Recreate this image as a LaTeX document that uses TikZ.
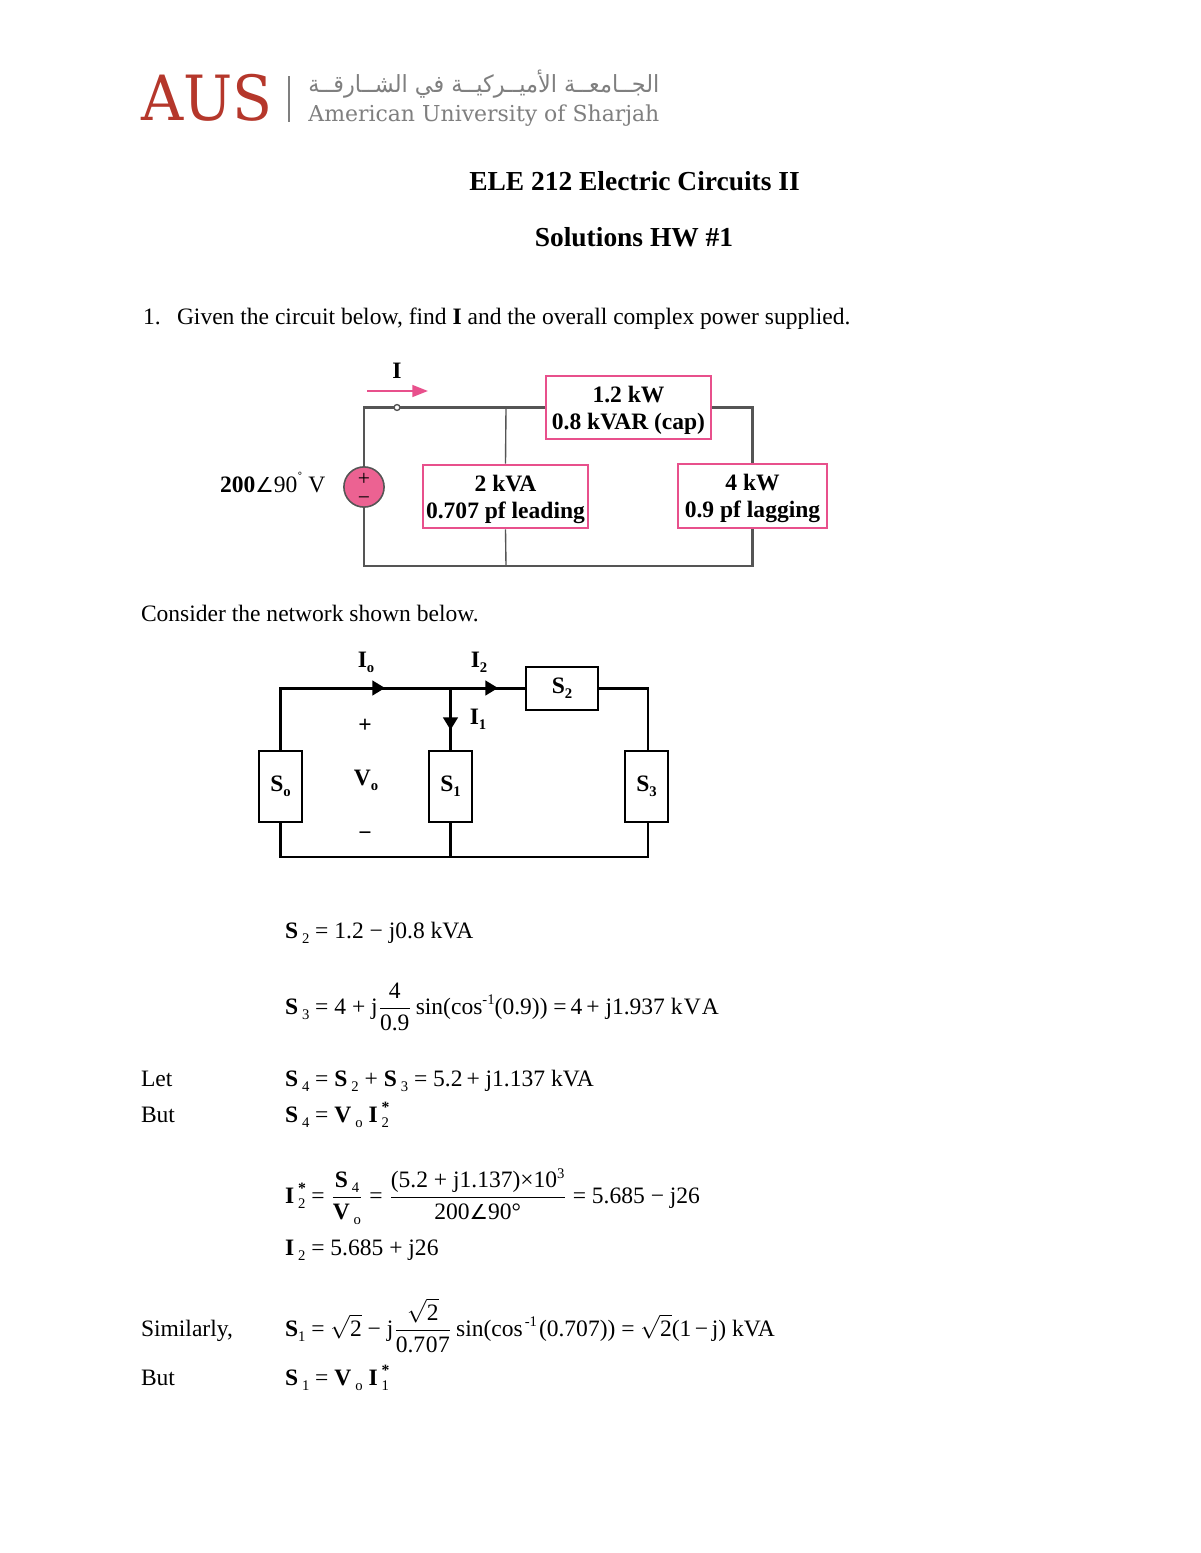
\documentclass[tikz,border=0pt]{standalone}
\usepackage{fontspec}
\usepackage{amsmath}
\usepackage{graphicx}
\setmainfont{Liberation Serif}
\newfontfamily\arabicfont[Script=Arabic]{DejaVu Sans}
\newfontfamily\symbfont{DejaVu Sans}
\newfontfamily\logoserif{DejaVu Serif}
\TeXXeTstate=1
\usetikzlibrary{arrows.meta}
\definecolor{aused}{HTML}{B5372B}
\definecolor{augray}{HTML}{7F7F7F}
\definecolor{pinkline}{HTML}{E8508C}
\definecolor{pinkfill}{HTML}{EC6292}
\definecolor{wiregray}{HTML}{555555}
\newcommand\subb[1]{\raisebox{-2.6pt}{\fontsize{7.5}{8}\selectfont #1}}
\newcommand\subs[2]{\rlap{\raisebox{5pt}{\fontsize{8}{8}\selectfont\bfseries #2}}\raisebox{-2.6pt}{\fontsize{7.5}{8}\selectfont #1}}
\newcommand\supp[1]{\raisebox{4.6pt}{\fontsize{7.5}{8}\selectfont #1}}
\newcommand\myfrac[2]{\ensuremath{\genfrac{}{}{0.5pt}{0}{\hbox{#1}}{\hbox{#2}}}}
\newcommand\myroot{\ensuremath{\sqrt{\hbox{2}}}}
\newcommand\ang{{\symbfont\fontsize{10.5}{12}\selectfont ∠}}
\newcommand\lift{\rule{0pt}{11pt}}
\tikzset{
  txt/.style={anchor=base west,inner sep=0pt,outer sep=0pt,font=\fontsize{12}{14}\selectfont},
  lbl/.style={anchor=base,inner sep=0pt,outer sep=0pt,font=\fontsize{12}{14}\selectfont\bfseries},
  head/.style={anchor=base,inner sep=0pt,font=\fontsize{14}{16}\selectfont\bfseries},
  pinkbox/.style={draw=pinkline,line width=1.1pt,fill=white,minimum width=#1,inner sep=0pt,align=center,font=\fontsize{12}{13.8}\selectfont\bfseries},
  blackbox/.style={draw=black,line width=1.3pt,fill=white,inner sep=0pt,font=\fontsize{12}{14}\selectfont\bfseries},
  outerwire/.style={draw=wiregray,line width=1.5pt},
  innerwire/.style={draw=wiregray,line width=0.7pt},
  blackwire/.style={draw=black,line width=1.3pt},
  tip/.style={draw=black,line width=1.3pt,-{Triangle[length=6.5pt,width=7.5pt]}},
}
\begin{document}
\begin{tikzpicture}[x=0.51pt,y=-0.51pt]
\useasboundingbox (0,0) rectangle (1200,1553);
\fill[white] (0,0) rectangle (1200,1553);
% logo
\node[anchor=base west,inner sep=0pt,text=aused] (aus) at (141,120.5) {\resizebox{67pt}{23.6pt}{\logoserif AUS}};
\node[anchor=north,fill=augray,minimum width=1pt,minimum height=23.5pt,inner sep=0pt] (bar) at (289,76) {};
\node[anchor=base west,inner sep=0pt,text=augray] (ar) at (308,93) {\resizebox{179pt}{11.5pt}{\arabicfont\beginR الجــامعــة الأميــركيــة في الشــارقــة\endR}};
\node[anchor=base west,inner sep=0pt,text=augray] (en) at (308,122) {\resizebox{179pt}{!}{\logoserif American University of Sharjah}};
% titles
\node[head] (t1) at (634.5,191) {ELE 212 Electric Circuits II};
\node[head] (t2) at (634,246) {Solutions HW \#1};
\node[txt] (q1n) at (143,324) {1.};
\node[txt] (q1) at (177,324) {Given the circuit below, find \textbf{I} and the overall complex power supplied.};
% circuit 1
\node[pinkbox=84.2pt,minimum height=32pt] (top) at (628.5,407.5) {\lift 1.2 kW\\0.8 kVAR (cap)};
\node[pinkbox=84.2pt,minimum height=32.5pt] (left) at (505.5,496.5) {\lift 2 kVA\\0.707 pf leading};
\node[pinkbox=76pt,minimum height=32.5pt] (right) at (752.5,496) {\lift 4 kW\\0.9 pf lagging};
\node[circle,draw=wiregray,line width=0.8pt,fill=pinkfill,minimum size=20.5pt,inner sep=0pt] (src) at (364,487) {};
\node[inner sep=0pt,font=\fontsize{11}{11}\selectfont] (plus) at (364,479) {+};
\node[inner sep=0pt,font=\fontsize{11}{11}\selectfont] (minus) at (364,501) {−};
\coordinate (jt) at (506,407.5);
\coordinate (jb) at (506,566);
\coordinate (rb) at (752.5,566);
\draw[outerwire] (src.north) |- (top.west);
\draw[outerwire] (top.east) -| (right.north);
\draw[outerwire] (src.south) |- (rb) -- (right.south);
\draw[innerwire] (jt) -- (left.north);
\draw[innerwire] (left.south) -- (jb);
\node[draw=wiregray,line width=0.7pt,fill=white,circle,minimum size=3pt,inner sep=0pt] (dot) at (397,407.5) {};
\coordinate (ia) at (367,391);
\coordinate (ib) at (428,391);
\draw[draw=pinkline,line width=1.1pt,-{Triangle[length=8pt,width=6pt]}] (ia) -- (ib);
\node[lbl] (ilab) at (397,378) {I};
\node[txt] (vs) at (220,492) {\textbf{200}\ang 90\textsuperscript{\fontsize{8}{8}\selectfont ˚}\kern2.5pt V};
% network
\node[txt] (cons) at (141,621) {Consider the network shown below.};
\node[blackbox,minimum width=21.9pt,minimum height=36.2pt] (s0) at (280.5,786.5) {S\subb{o}};
\node[blackbox,minimum width=21.9pt,minimum height=36.2pt] (s1) at (450.5,786.5) {S\subb{1}};
\node[blackbox,minimum width=21.9pt,minimum height=36.2pt] (s3) at (646.5,786.5) {S\subb{3}};
\node[blackbox,minimum width=36.7pt,minimum height=22pt] (s2) at (562,688.5) {S\subb{2}};
\coordinate (j1) at (450.5,688);
\coordinate (j2) at (450.5,857);
\coordinate (s3t) at (648,751);
\coordinate (s3b) at (648,822);
\coordinate (br) at (648,857);
\draw[blackwire] (s0.north) |- (s2.west);
\draw[blackwire] (s2.east) -| (s3t);
\draw[blackwire] (s0.south) |- (br) -- (s3b);
\draw[blackwire] (j1) -- (s1.north);
\draw[blackwire] (s1.south) -- (j2);
\coordinate (a1s) at (360,688); \coordinate (a1e) at (385,688);
\coordinate (a2s) at (470,688); \coordinate (a2e) at (498,688);
\coordinate (a3s) at (450.5,700); \coordinate (a3e) at (450.5,730);
\draw[tip] (a1s) -- (a1e);
\draw[tip] (a2s) -- (a2e);
\draw[tip] (a3s) -- (a3e);
\node[lbl] (io) at (366,667) {I\subb{o}};
\node[lbl] (i2) at (479,667) {I\subb{2}};
\node[lbl] (i1) at (478,724) {I\subb{1}};
\node[lbl] (vp) at (365,732) {+};
\node[lbl] (vo) at (366,785) {V\subb{o}};
\node[lbl] (vm) at (365,840) {−};
% equations
\node[txt] (e1) at (285,938) {\textbf{S}\,\subb{2} = 1.2 − j0.8 kVA};
\node[txt] (e2) at (285,1014) {\textbf{S}\,\subb{3} = 4 + j\myfrac{4}{0.9}\,sin(cos\supp{-1}(0.9)) =\kern2pt 4\kern2pt+ j1.937 k\kern0.6pt V\kern0.6pt A};
\node[txt] (let) at (141,1086) {Let};
\node[txt] (e3) at (285,1086) {\textbf{S}\,\subb{4} = \textbf{S}\,\subb{2} + \textbf{S}\,\subb{3} = 5.2\,+ j1.137 kVA};
\node[txt] (but1) at (141,1122) {But};
\node[txt] (e4) at (285,1122) {\textbf{S}\,\subb{4} = \textbf{V}\,\subb{o} \textbf{I}\,\subs{2}{*}};
\node[txt] (e5) at (285,1203) {\textbf{I}\,\subs{2}{*} = \myfrac{\textbf{S}\,\subb{4}}{\textbf{V}\,\subb{o}} = \myfrac{(5.2 + j1.137)×10\supp{3}}{200\ang 90°} = 5.685 − j26};
\node[txt] (e6) at (285,1255) {\textbf{I}\,\subb{2} = 5.685 + j26};
\node[txt] (sim) at (141,1336) {Similarly,};
\node[txt] (e7) at (285,1336) {\textbf{S}\subb{1} = \myroot{} − j\myfrac{\myroot}{0.7\kern0.3pt 0\kern0.3pt 7}\,sin(cos\kern1pt\supp{-1}\kern1pt(0.707)) = \myroot(1\kern1.8pt−\kern1.8pt j) kVA};
\node[txt] (but2) at (141,1385) {But};
\node[txt] (e8) at (285,1385) {\textbf{S}\,\subb{1} = \textbf{V}\,\subb{o} \textbf{I}\,\subs{1}{*}};
\end{tikzpicture}
\end{document}
